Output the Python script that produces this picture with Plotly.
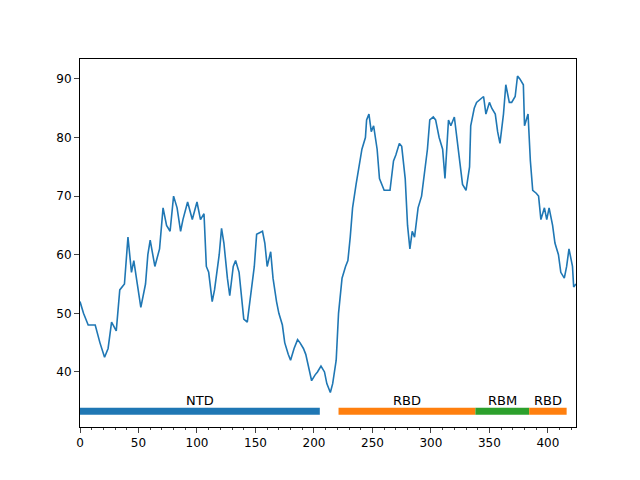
import plotly.graph_objects as go

# signal values
idx = [0, 3, 7, 13, 17, 21, 24, 27, 31, 34, 38, 41, 44, 46, 49, 52, 56, 58, 60, 64,
       68, 70, 71, 74, 77, 80, 83, 86, 88, 92, 96, 100, 103, 106, 108, 110, 113, 115, 119, 121,
       123, 126, 128, 131, 133, 136, 140, 143, 145, 149, 151, 156, 158, 160, 163, 165, 168, 170, 173, 175,
       178, 180, 183, 186, 188, 191, 193, 196, 198, 201, 203, 206, 209, 211, 214, 216, 219, 221, 224, 227,
       229, 231, 233, 236, 239, 241, 244, 245, 247, 249, 251, 254, 256, 260, 262, 265, 268, 270, 273, 275,
       278, 280, 282, 284, 286, 289, 292, 294, 297, 299, 302, 304, 307, 310, 312, 315, 317, 320, 322, 325,
       327, 330, 333, 334, 337, 339, 342, 345, 347, 350, 352, 355, 357, 359, 362, 364, 367, 369, 372, 374,
       376, 379, 380, 383, 385, 387, 390, 392, 394, 397, 399, 401, 404, 406, 409, 411, 414, 416, 418, 421,
       422, 424]
vals = [52, 50, 48, 48, 45, 42.5, 44, 48.5, 47, 54, 55, 63, 57, 59, 55, 51, 55, 60, 62.5, 58,
        61, 66, 68, 65, 64, 70, 68, 64, 66, 69, 66, 69, 66, 67, 58, 57, 52, 54, 60, 64.5,
        62, 56, 53, 58, 59, 57, 49, 48.5, 52, 58, 63.5, 64, 62, 58, 60.5, 56, 52, 50, 48, 45,
        43, 42, 44, 45.5, 45, 44, 43, 40, 38.5, 39.5, 40, 41, 40, 38, 36.5, 38, 42, 50, 56, 58,
        59, 63, 68, 72, 76, 78, 80, 83, 84, 81, 82, 78, 73, 71, 71, 71, 76, 77, 79, 78.5,
        73, 65, 61, 64, 63, 68, 70, 73, 78, 83, 83.5, 83, 80, 78, 73, 83, 82, 83.5, 80, 75,
        72, 71, 75, 82, 85, 86, 86.5, 87, 84, 86, 85, 84, 81, 79, 84, 89, 86, 86, 87, 90.5,
        90, 89, 82, 84, 76, 71, 70.5, 70, 66, 68, 66, 68, 65, 62, 60, 57, 56, 58, 61, 58,
        54.5, 55]

# segments: label, start, end, colour
seg_labels = ["NTD", "RBD", "RBM", "RBD"]
seg_start = [0, 221, 338, 384]
seg_end = [205, 338, 384, 416]
seg_colors = ["#1f77b4", "#ff7f0e", "#2ca02c", "#ff7f0e"]
seg_y = 33.3

fig = go.Figure()
fig.add_trace(go.Scatter(x=idx, y=vals, mode="lines", line=dict(color="#1f77b4", width=1.6)))

for lab, s, e, c in zip(seg_labels, seg_start, seg_end, seg_colors):
    fig.add_trace(go.Scatter(x=[s, e], y=[seg_y, seg_y], mode="lines",
                             line=dict(color=c, width=7)))
    fig.add_annotation(x=(s + e) / 2, y=seg_y, text=lab, showarrow=False,
                       yshift=11, font=dict(size=13, color="black"))

axis_style = dict(showline=True, linecolor="black", mirror=True, ticks="outside",
                  showgrid=False, zeroline=False, tickfont=dict(size=12, color="black"))
fig.update_xaxes(range=[0, 424], tickvals=[0, 50, 100, 150, 200, 250, 300, 350, 400],
                 minor=dict(ticks="outside", dtick=10, ticklen=2), **axis_style)
fig.update_yaxes(range=[30.6, 93.4], tickvals=[40, 50, 60, 70, 80, 90], **axis_style)
fig.update_layout(width=640, height=480, showlegend=False, plot_bgcolor="white",
                  paper_bgcolor="white", font=dict(family="DejaVu Sans"),
                  margin=dict(l=72, r=72, t=51, b=61))
fig.write_html("out.html")
